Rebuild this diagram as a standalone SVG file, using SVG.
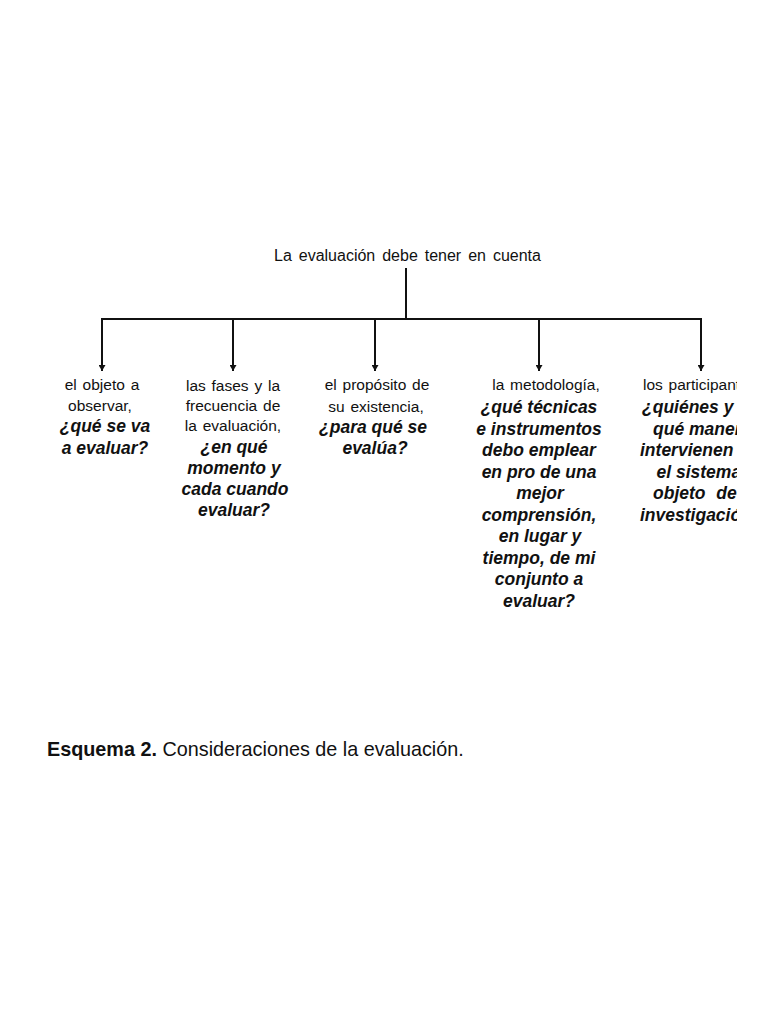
<svg xmlns="http://www.w3.org/2000/svg" width="768" height="1024" viewBox="0 0 768 1024">
  <style>
    text { font-family: "Liberation Sans", Arial, sans-serif; fill: #111; }
    .reg { font-size: 15.5px; word-spacing: 1.5px; text-anchor: middle; }
    .bi { font-size: 17.5px; font-weight: bold; font-style: italic; text-anchor: middle; }
    .st { text-anchor: start; }
    .conn { stroke: #111; stroke-width: 2; fill: none; }
    .arr { stroke: #111; stroke-width: 2; fill: none; marker-end: url(#ah); }
  </style>
  <defs>
    <marker id="ah" markerUnits="userSpaceOnUse" markerWidth="7" markerHeight="7" refX="6" refY="3.5" orient="auto">
      <path d="M0,0 L6,3.5 L0,7 z" fill="#111"/>
    </marker>
    <clipPath id="pageclip">
      <rect x="0" y="0" width="737" height="1024"/>
    </clipPath>
  </defs>
  <rect width="768" height="1024" fill="#fff"/>

  <g id="root">
    <text x="274" y="261" style="font-size:16px; word-spacing:2.5px">La evaluación debe tener en cuenta</text>
  </g>

  <g id="connectors">
    <line class="conn" x1="406" y1="268" x2="406" y2="319"/>
    <line class="conn" x1="101" y1="319" x2="702" y2="319"/>
    <line class="arr" x1="102" y1="319" x2="102" y2="371"/>
    <line class="arr" x1="233" y1="319" x2="233" y2="371"/>
    <line class="arr" x1="375" y1="319" x2="375" y2="371"/>
    <line class="arr" x1="539" y1="319" x2="539" y2="371"/>
    <line class="arr" x1="701" y1="319" x2="701" y2="371"/>
  </g>

  <g id="node1">
    <text class="reg" x="102" y="390">el objeto a</text>
    <text class="reg" x="100" y="411">observar,</text>
    <text class="bi" x="105" y="432">¿qué se va</text>
    <text class="bi" x="105" y="453.5">a evaluar?</text>
  </g>

  <g id="node2">
    <text class="reg" x="233" y="391">las fases y la</text>
    <text class="reg" x="233" y="411">frecuencia de</text>
    <text class="reg" x="233" y="431">la evaluación,</text>
    <text class="bi" x="234" y="452.5">¿en qué</text>
    <text class="bi" x="234" y="473.5">momento y</text>
    <text class="bi" x="235" y="495">cada cuando</text>
    <text class="bi" x="234" y="516">evaluar?</text>
  </g>

  <g id="node3">
    <text class="reg" x="377" y="390">el propósito de</text>
    <text class="reg" x="376" y="411.5">su existencia,</text>
    <text class="bi" x="373" y="433">¿para qué se</text>
    <text class="bi" x="375" y="453.5">evalúa?</text>
  </g>

  <g id="node4">
    <text class="reg" x="546" y="390">la metodología,</text>
    <text class="bi" x="539" y="413">¿qué técnicas</text>
    <text class="bi" x="539" y="434.5">e instrumentos</text>
    <text class="bi" x="539" y="456">debo emplear</text>
    <text class="bi" x="539" y="477.5">en pro de una</text>
    <text class="bi" x="540" y="499">mejor</text>
    <text class="bi" x="539" y="520.5">comprensión,</text>
    <text class="bi" x="540" y="542">en lugar y</text>
    <text class="bi" x="539" y="563.5">tiempo, de mi</text>
    <text class="bi" x="539" y="585">conjunto a</text>
    <text class="bi" x="539" y="606.5">evaluar?</text>
  </g>

  <g id="node5" clip-path="url(#pageclip)">
    <text class="reg st" x="643" y="390">los participantes,</text>
    <text class="bi st" x="642" y="413">¿quiénes y de</text>
    <text class="bi st" x="653" y="434.5">qué manera</text>
    <text class="bi st" x="640" y="456">intervienen en</text>
    <text class="bi st" x="656.5" y="477.5">el sistema</text>
    <text class="bi st" x="653" y="499" style="word-spacing:6px">objeto de</text>
    <text class="bi st" x="640" y="520.5">investigación?</text>
  </g>

  <g id="caption">
    <text x="47" y="756" style="font-size:19.8px"><tspan font-weight="bold">Esquema 2.</tspan> Consideraciones de la evaluación.</text>
  </g>
</svg>
